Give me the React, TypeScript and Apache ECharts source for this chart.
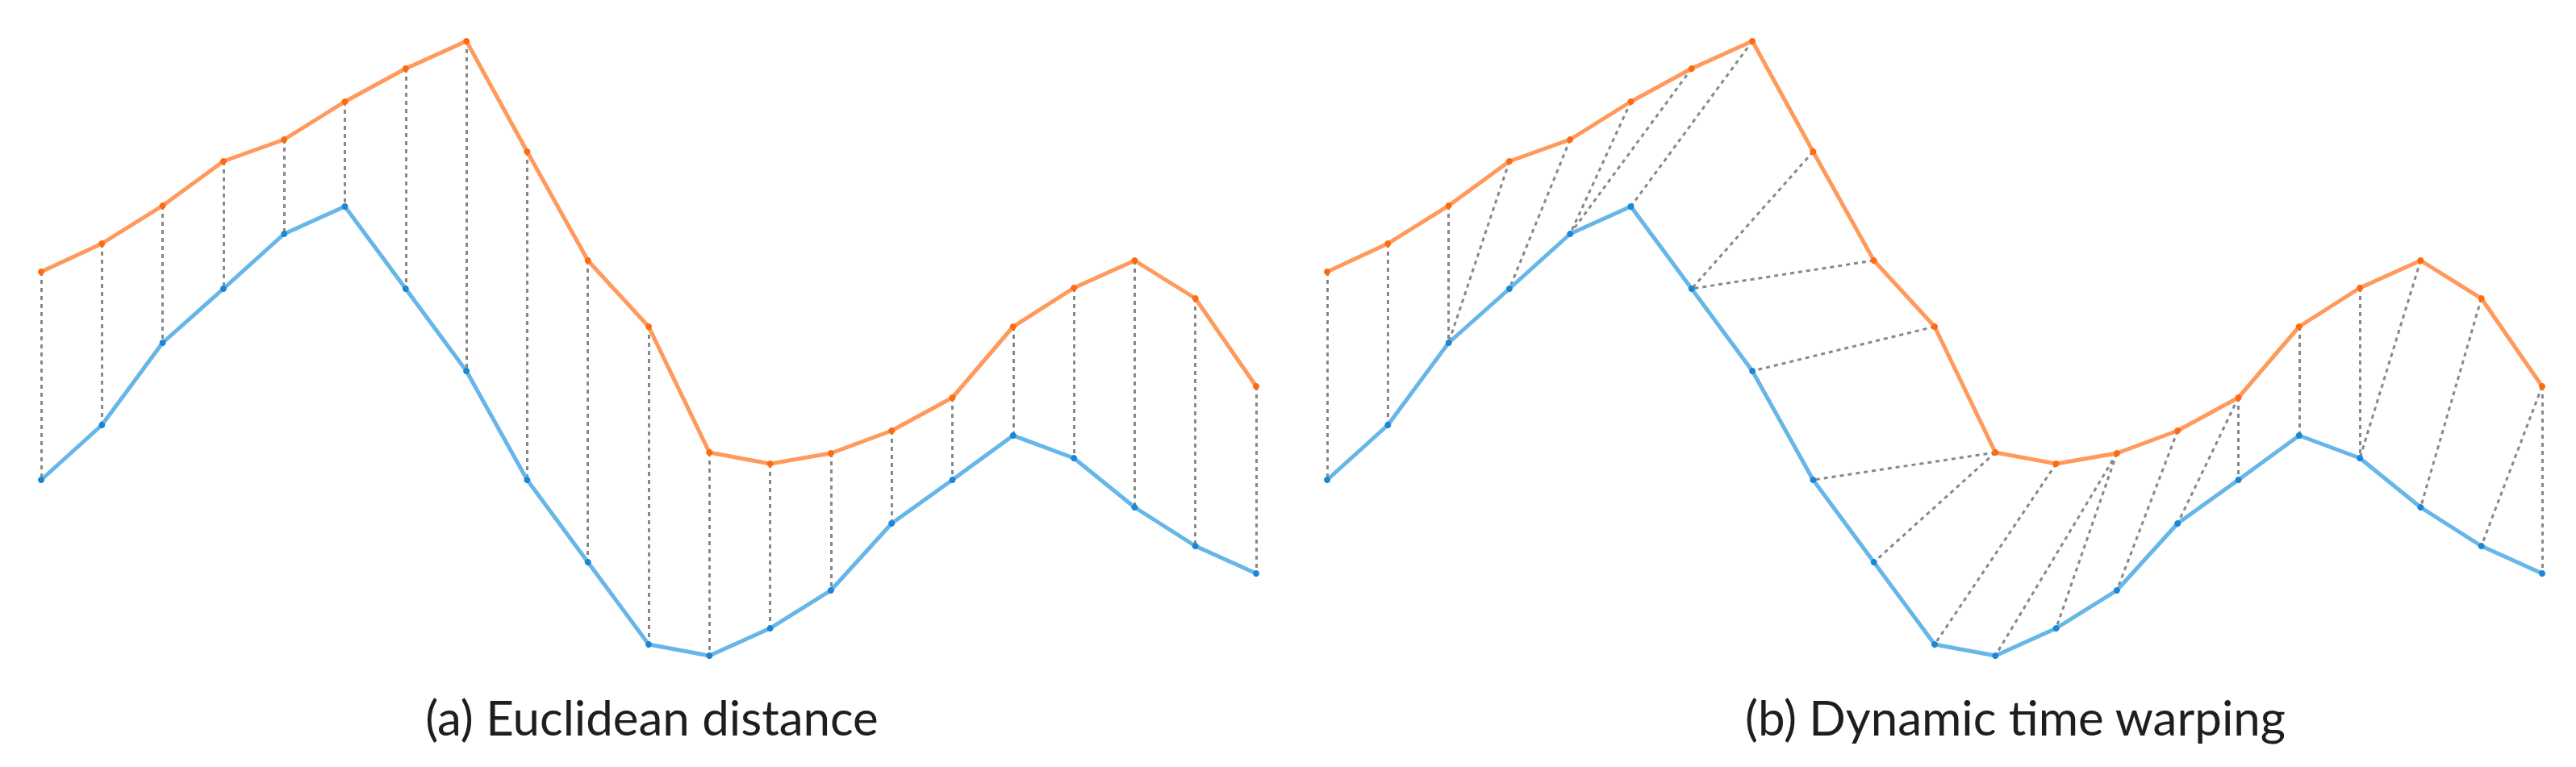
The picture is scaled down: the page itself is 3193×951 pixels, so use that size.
import React, { useEffect, useRef } from "react";
import * as echarts from "echarts";

// time steps shared by both series
const timeSteps = [0, 1, 2, 3, 4, 5, 6, 7, 8, 9, 10, 11, 12, 13, 14, 15, 16, 17, 18, 19, 20];
// upper (orange) series
const seriesA = [51.3, 54.8, 59.5, 65.0, 67.7, 72.4, 76.5, 79.9, 66.2, 52.7, 44.5, 28.9, 27.5, 28.8, 31.6, 35.7, 44.5, 49.3, 52.7, 48.0, 37.1];
// lower (blue) series
const seriesB = [25.5, 32.3, 42.5, 49.2, 56.0, 59.4, 49.2, 39.0, 25.5, 15.3, 5.1, 3.7, 7.1, 11.8, 20.1, 25.5, 31.0, 28.2, 22.1, 17.3, 13.9];
// DTW warping path: index into seriesA and matching index into seriesB
const dtwPathA = [0, 1, 2, 3, 4, 5, 6, 7, 8, 9, 10, 11, 11, 12, 13, 13, 14, 15, 15, 16, 17, 18, 19, 20, 20];
const dtwPathB = [0, 1, 2, 2, 3, 4, 4, 5, 6, 6, 7, 8, 9, 10, 11, 12, 13, 14, 15, 16, 17, 17, 18, 19, 20];
const panelTitles = ["(a) Euclidean distance", "(b) Dynamic time warping"];

const ORANGE_LINE = "#ff9a5c";
const ORANGE_DOT = "#ff6a10";
const BLUE_LINE = "#66b6e8";
const BLUE_DOT = "#1a86d6";
const LINK = "#888888";

export default function App() {
  const ref = useRef<HTMLDivElement>(null);

  useEffect(() => {
    if (!ref.current) return;
    const chart = echarts.init(ref.current, null, { renderer: "svg" });

    const orangeData = timeSteps.map((t, i) => [t, seriesA[i]]);
    const blueData = timeSteps.map((t, i) => [t, seriesB[i]]);
    const euclidLinks = timeSteps.map((t, i) => ({
      coords: [
        [t, seriesA[i]],
        [t, seriesB[i]],
      ],
    }));
    const dtwLinks = dtwPathA.map((a, k) => {
      const b = dtwPathB[k];
      return {
        coords: [
          [timeSteps[a], seriesA[a]],
          [timeSteps[b], seriesB[b]],
        ],
      };
    });

    const grids = [
      { left: 51, top: 0, width: 1506, height: 850 },
      { left: 1645, top: 0, width: 1506, height: 850 },
    ];

    const axisX = (gi: number) => ({
      type: "value",
      gridIndex: gi,
      min: 0,
      max: 20,
      show: false,
    });
    const axisY = (gi: number) => ({
      type: "value",
      gridIndex: gi,
      min: 0,
      max: 85,
      show: false,
    });

    const lineSeries = (gi: number, data: number[][], lineColor: string, dotColor: string) => ({
      type: "line",
      xAxisIndex: gi,
      yAxisIndex: gi,
      data,
      symbol: "circle",
      symbolSize: 8,
      showSymbol: true,
      lineStyle: { color: lineColor, width: 5 },
      itemStyle: { color: dotColor },
      z: 3,
      silent: true,
    });

    const linkSeries = (gi: number, data: any[]) => ({
      type: "lines",
      coordinateSystem: "cartesian2d",
      xAxisIndex: gi,
      yAxisIndex: gi,
      data,
      lineStyle: { color: LINK, width: 3, type: [5, 5], opacity: 1 },
      z: 1,
      silent: true,
    });

    const titleStyle = {
      font: "60px Lato",
      fill: "#1e1e1e",
      align: "center",
      verticalAlign: "middle",
    };

    chart.setOption({
      animation: false,
      backgroundColor: "#ffffff",
      grid: grids,
      xAxis: [axisX(0), axisX(1)],
      yAxis: [axisY(0), axisY(1)],
      series: [
        linkSeries(0, euclidLinks),
        linkSeries(1, dtwLinks),
        lineSeries(0, orangeData, ORANGE_LINE, ORANGE_DOT),
        lineSeries(0, blueData, BLUE_LINE, BLUE_DOT),
        lineSeries(1, orangeData, ORANGE_LINE, ORANGE_DOT),
        lineSeries(1, blueData, BLUE_LINE, BLUE_DOT),
      ],
      graphic: [
        {
          type: "text",
          x: 808,
          y: 889,
          style: { ...titleStyle, text: panelTitles[0] },
        },
        {
          type: "text",
          x: 2498,
          y: 889,
          style: { ...titleStyle, text: panelTitles[1] },
        },
      ],
    });

    return () => chart.dispose();
  }, []);

  return (
    <div
      ref={ref}
      style={{ position: "absolute", left: 0, top: 0, width: 3193, height: 951 }}
    />
  );
}
